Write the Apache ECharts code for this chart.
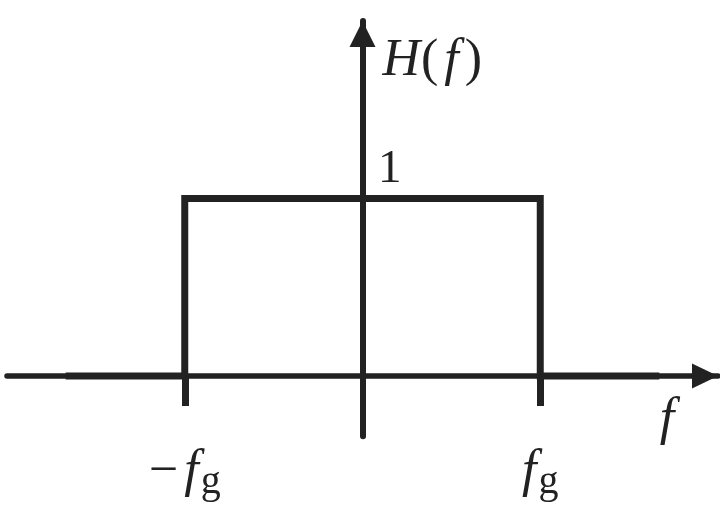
<!DOCTYPE html>
<html><head><meta charset="utf-8">
<script src="https://cdn.jsdelivr.net/npm/echarts@6/dist/echarts.min.js"></script>
<style>html,body{margin:0;padding:0;background:#fff}#c{width:720px;height:514px}</style>
</head><body><div id="c"></div>
<script>
// Rectangular transfer function H(f), cutoff f_g = 1
const fPoints = [-1.67, -1, -1, 1, 1, 1.67];
const hValues = [0, 0, 1, 1, 0, 0];
const xTickValues = [-1, 1];
const xTickLabels = ['{m|−}{i|f}{s|g}', '{i|f}{s|g}'];
const yTickValues = [1];
const yTickLabels = ['1'];
const xRange = [-2, 2];
const yRange = [-0.34, 2];

const INK = '#222';
const SERIF = '"Liberation Serif", "DejaVu Serif", serif';
const mathRich = {
  i: {fontFamily: SERIF, fontStyle: 'italic', fontSize: 52, color: INK, verticalAlign: 'top', padding: [0, 2, 0, 0]},
  h: {fontFamily: SERIF, fontStyle: 'italic', fontSize: 52, color: INK, verticalAlign: 'top', padding: [0, 1, 0, 0]},
  fp: {fontFamily: SERIF, fontStyle: 'italic', fontSize: 52, color: INK, verticalAlign: 'top', padding: [0, 6, 0, 4]},
  r: {fontFamily: SERIF, fontSize: 52, color: INK, verticalAlign: 'top', padding: [0, 2, 0, 0]},
  m: {fontFamily: SERIF, fontSize: 52, color: INK, verticalAlign: 'top', padding: [0, 6, 0, 0]},
  s: {fontFamily: SERIF, fontSize: 40, color: INK, verticalAlign: 'top', padding: [16, 0, 0, 0]}
};

const chart = echarts.init(document.getElementById('c'), null, {renderer: 'canvas'});
chart.setOption({
  animation: false,
  backgroundColor: '#fff',
  grid: {left: 7, right: 2, top: 21, bottom: 77.65, containLabel: false, outerBoundsMode: 'none'},
  xAxis: {
    type: 'value', min: xRange[0], max: xRange[1],
    axisLine: {show: true, onZero: true, symbol: ['none', 'triangle'], symbolSize: [25, 26], symbolOffset: [0, -13],
      lineStyle: {color: INK, width: 5.5}},
    axisTick: {show: true, customValues: xTickValues, length: 30, inside: false, lineStyle: {color: INK, width: 7}},
    axisLabel: {show: true, customValues: xTickValues, margin: 10,
      formatter: function (v) { return xTickLabels[xTickValues.indexOf(v)]; }, rich: mathRich},
    splitLine: {show: false},
    name: '{i|f}', nameLocation: 'end', nameGap: -50,
    nameTextStyle: {align: 'center', verticalAlign: 'top', padding: [18, 0, 0, 0], rich: mathRich}
  },
  yAxis: {
    type: 'value', min: yRange[0], max: yRange[1],
    axisLine: {show: true, onZero: true, symbol: ['none', 'triangle'], symbolSize: [26, 26], symbolOffset: [0, -13],
      lineStyle: {color: INK, width: 6}},
    axisTick: {show: false},
    axisLabel: {show: true, customValues: yTickValues, inside: true, margin: 371,
      formatter: function (v) { return yTickLabels[yTickValues.indexOf(v)]; },
      fontFamily: SERIF, fontSize: 47, color: INK, verticalAlign: 'bottom', padding: [0, 0, 5, 0]},
    splitLine: {show: false},
    name: '{h|H}{r|(}{fp|f}{r|)}', nameLocation: 'end', nameGap: -40,
    nameTextStyle: {align: 'left', verticalAlign: 'middle', padding: [0, 0, 0, 20], rich: mathRich}
  },
  series: [{
    type: 'line', silent: true, showSymbol: false, symbol: 'none',
    data: fPoints.map(function (f, k) { return [f, hValues[k]]; }),
    lineStyle: {color: INK, width: 7, join: 'miter', cap: 'butt'}
  }]
});
</script></body></html>
